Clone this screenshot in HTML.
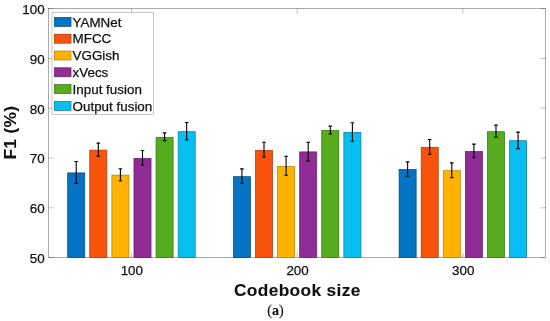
<!DOCTYPE html><html><head><meta charset="utf-8"><title>F1 vs Codebook size</title>
<style>html,body{margin:0;padding:0;background:#fff}svg{display:block}text{font-family:"Liberation Sans",Arial,Helvetica,sans-serif;fill:#111;stroke:#111;stroke-width:0.25px}.t{font-size:13.4px}.b{font-size:17.3px;font-weight:bold;fill:#111;stroke-width:0.1px;letter-spacing:0.36px}.c{font-family:"Liberation Serif","Times New Roman",serif;font-size:14px;fill:#111;stroke-width:0.15px}</style></head><body>
<svg width="550" height="321" viewBox="0 0 550 321">
<rect width="550" height="321" fill="#fff"/>
<rect x="48.6" y="8.6" width="497.10" height="249.00" fill="none" stroke="#262626" stroke-width="0.38"/>
<rect x="67.68" y="172.90" width="17.07" height="84.70" fill="#0473C4" stroke="#00477a" stroke-width="0.7"/>
<rect x="89.77" y="150.10" width="17.07" height="107.50" fill="#F8530C" stroke="#a83508" stroke-width="0.7"/>
<rect x="111.87" y="175.10" width="17.07" height="82.50" fill="#FFB300" stroke="#b37d00" stroke-width="0.7"/>
<rect x="133.96" y="158.30" width="17.07" height="99.30" fill="#912C96" stroke="#5e1c62" stroke-width="0.7"/>
<rect x="156.05" y="137.30" width="17.07" height="120.30" fill="#57AB1E" stroke="#376e12" stroke-width="0.7"/>
<rect x="178.15" y="131.70" width="17.07" height="125.90" fill="#08BEF0" stroke="#007a9c" stroke-width="0.7"/>
<rect x="233.38" y="176.70" width="17.07" height="80.90" fill="#0473C4" stroke="#00477a" stroke-width="0.7"/>
<rect x="255.47" y="150.30" width="17.07" height="107.30" fill="#F8530C" stroke="#a83508" stroke-width="0.7"/>
<rect x="277.57" y="166.50" width="17.07" height="91.10" fill="#FFB300" stroke="#b37d00" stroke-width="0.7"/>
<rect x="299.66" y="151.90" width="17.07" height="105.70" fill="#912C96" stroke="#5e1c62" stroke-width="0.7"/>
<rect x="321.75" y="130.50" width="17.07" height="127.10" fill="#57AB1E" stroke="#376e12" stroke-width="0.7"/>
<rect x="343.85" y="132.30" width="17.07" height="125.30" fill="#08BEF0" stroke="#007a9c" stroke-width="0.7"/>
<rect x="399.08" y="169.50" width="17.07" height="88.10" fill="#0473C4" stroke="#00477a" stroke-width="0.7"/>
<rect x="421.17" y="147.30" width="17.07" height="110.30" fill="#F8530C" stroke="#a83508" stroke-width="0.7"/>
<rect x="443.27" y="170.70" width="17.07" height="86.90" fill="#FFB300" stroke="#b37d00" stroke-width="0.7"/>
<rect x="465.36" y="151.50" width="17.07" height="106.10" fill="#912C96" stroke="#5e1c62" stroke-width="0.7"/>
<rect x="487.45" y="131.70" width="17.07" height="125.90" fill="#57AB1E" stroke="#376e12" stroke-width="0.7"/>
<rect x="509.55" y="140.70" width="17.07" height="116.90" fill="#08BEF0" stroke="#007a9c" stroke-width="0.7"/>
<path d="M76.22 161.50V183.40M74.42 161.50h3.6M74.42 183.40h3.6" stroke="#000" stroke-width="1.1" fill="none"/>
<path d="M98.31 143.10V156.20M96.51 143.10h3.6M96.51 156.20h3.6" stroke="#000" stroke-width="1.1" fill="none"/>
<path d="M120.40 168.70V180.80M118.60 168.70h3.6M118.60 180.80h3.6" stroke="#000" stroke-width="1.1" fill="none"/>
<path d="M142.50 150.50V165.00M140.70 150.50h3.6M140.70 165.00h3.6" stroke="#000" stroke-width="1.1" fill="none"/>
<path d="M164.59 132.90V140.60M162.79 132.90h3.6M162.79 140.60h3.6" stroke="#000" stroke-width="1.1" fill="none"/>
<path d="M186.68 122.50V139.80M184.88 122.50h3.6M184.88 139.80h3.6" stroke="#000" stroke-width="1.1" fill="none"/>
<path d="M241.92 168.90V183.20M240.12 168.90h3.6M240.12 183.20h3.6" stroke="#000" stroke-width="1.1" fill="none"/>
<path d="M264.01 142.30V157.00M262.21 142.30h3.6M262.21 157.00h3.6" stroke="#000" stroke-width="1.1" fill="none"/>
<path d="M286.10 156.30V175.20M284.30 156.30h3.6M284.30 175.20h3.6" stroke="#000" stroke-width="1.1" fill="none"/>
<path d="M308.20 142.30V161.00M306.40 142.30h3.6M306.40 161.00h3.6" stroke="#000" stroke-width="1.1" fill="none"/>
<path d="M330.29 126.10V134.00M328.49 126.10h3.6M328.49 134.00h3.6" stroke="#000" stroke-width="1.1" fill="none"/>
<path d="M352.38 122.70V141.20M350.58 122.70h3.6M350.58 141.20h3.6" stroke="#000" stroke-width="1.1" fill="none"/>
<path d="M407.62 161.90V176.20M405.82 161.90h3.6M405.82 176.20h3.6" stroke="#000" stroke-width="1.1" fill="none"/>
<path d="M429.71 139.50V154.20M427.91 139.50h3.6M427.91 154.20h3.6" stroke="#000" stroke-width="1.1" fill="none"/>
<path d="M451.80 162.90V177.80M450.00 162.90h3.6M450.00 177.80h3.6" stroke="#000" stroke-width="1.1" fill="none"/>
<path d="M473.90 144.10V157.80M472.10 144.10h3.6M472.10 157.80h3.6" stroke="#000" stroke-width="1.1" fill="none"/>
<path d="M495.99 125.10V137.20M494.19 125.10h3.6M494.19 137.20h3.6" stroke="#000" stroke-width="1.1" fill="none"/>
<path d="M518.08 132.10V148.60M516.28 132.10h3.6M516.28 148.60h3.6" stroke="#000" stroke-width="1.1" fill="none"/>
<path d="M131.45 257.6v-5M131.45 8.6v5M297.15 257.6v-5M297.15 8.6v5M462.85 257.6v-5M462.85 8.6v5M48.6 257.60h5M545.7 257.60h-5M48.6 207.80h5M545.7 207.80h-5M48.6 158.00h5M545.7 158.00h-5M48.6 108.20h5M545.7 108.20h-5M48.6 58.40h5M545.7 58.40h-5M48.6 8.60h5M545.7 8.60h-5" stroke="#262626" stroke-width="0.3" fill="none"/>
<text class="t" x="44.6" y="263.00" text-anchor="end">50</text>
<text class="t" x="44.6" y="213.20" text-anchor="end">60</text>
<text class="t" x="44.6" y="163.40" text-anchor="end">70</text>
<text class="t" x="44.6" y="113.60" text-anchor="end">80</text>
<text class="t" x="44.6" y="63.80" text-anchor="end">90</text>
<text class="t" x="44.6" y="14.00" text-anchor="end">100</text>
<text class="t" x="131.85" y="275.4" text-anchor="middle">100</text>
<text class="t" x="297.55" y="275.4" text-anchor="middle">200</text>
<text class="t" x="463.25" y="275.4" text-anchor="middle">300</text>
<text class="b" x="297.35" y="296.4" text-anchor="middle">Codebook size</text>
<text class="b" transform="translate(16.3 132.60) rotate(-90)" text-anchor="middle" letter-spacing="0.42">F1 (%)</text>
<text class="c" x="275.5" y="315.2" text-anchor="middle">(<tspan font-weight="bold">a</tspan>)</text>
<rect x="52" y="12.6" width="101.4" height="102.1" fill="#fff" stroke="#444" stroke-width="0.3"/>
<rect x="54.4" y="17.40" width="16.6" height="9" fill="#0473C4" stroke="#00477a" stroke-width="0.7"/>
<text class="t" x="72.6" y="26.50">YAMNet</text>
<rect x="54.4" y="34.20" width="16.6" height="9" fill="#F8530C" stroke="#a83508" stroke-width="0.7"/>
<text class="t" x="72.6" y="43.30">MFCC</text>
<rect x="54.4" y="51.00" width="16.6" height="9" fill="#FFB300" stroke="#b37d00" stroke-width="0.7"/>
<text class="t" x="72.6" y="60.10">VGGish</text>
<rect x="54.4" y="67.80" width="16.6" height="9" fill="#912C96" stroke="#5e1c62" stroke-width="0.7"/>
<text class="t" x="72.6" y="76.90">xVecs</text>
<rect x="54.4" y="84.60" width="16.6" height="9" fill="#57AB1E" stroke="#376e12" stroke-width="0.7"/>
<text class="t" x="72.6" y="93.70">Input fusion</text>
<rect x="54.4" y="101.40" width="16.6" height="9" fill="#08BEF0" stroke="#007a9c" stroke-width="0.7"/>
<text class="t" x="72.6" y="110.50">Output fusion</text>
</svg></body></html>
